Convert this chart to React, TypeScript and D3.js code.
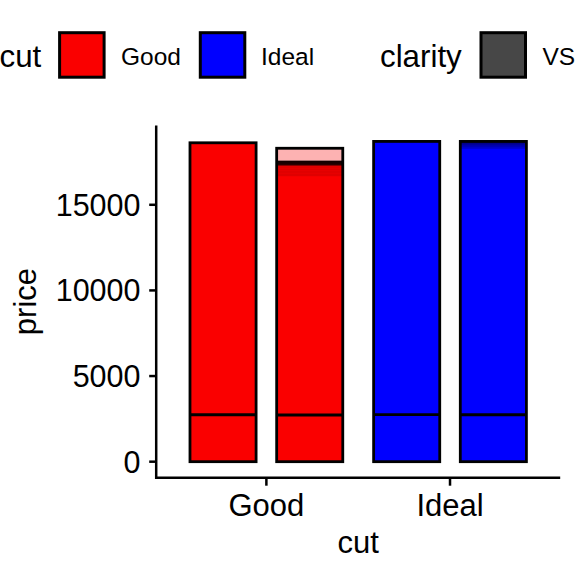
import React from 'react';
import * as d3 from 'd3';

// categories
const cuts = ['Good', 'Ideal'];
const clarities = ['VS1', 'VS2'];

// price, per cut (rows) and clarity (columns)
const peakPrice = [
  [18620, 18300],
  [18700, 18700],
];
const solidPrice = [
  [18620, 17550],
  [18700, 18700],
];
const splitPrice = [
  [2740, 2730],
  [2750, 2740],
];

// tops of the overlapping bars that show as dark lines
const goodVS2Dense = [17550, 17535, 17520, 17505, 17490, 17470, 17450, 17430, 17410, 17390, 17370, 17340, 17310];
const goodVS2Faint = [17250, 17180, 17100, 17020, 16940, 16860, 16780, 16700];
const idealVS2Dense = [18700, 18685, 18670, 18655, 18640, 18620, 18600, 18575, 18550, 18520, 18490, 18450, 18410, 18360, 18300];

const yTicks = [0, 5000, 10000, 15000];

const cutColors = ['#fa0000', '#0000ff'];
const FONT = '"Liberation Sans", Arial, Helvetica, sans-serif';

export default function App() {
  const width = 576;
  const height = 576;
  const panel = { left: 156.2, right: 560.2, top: 125.4, bottom: 477.7 };

  const x = d3.scaleLinear().domain([0.4, 2.6]).range([panel.left, panel.right]);
  const yMax = d3.max(peakPrice.flat())!;
  const pad = yMax * 0.05;
  const y = d3.scaleLinear().domain([-pad, yMax + pad]).range([panel.bottom, panel.top]);

  const dodge = 0.236;
  const barW = 0.36;

  const lineSets: Record<string, { values: number[]; opacity: number }[]> = {
    'Good-VS2': [
      { values: goodVS2Dense, opacity: 0.5 },
      { values: goodVS2Faint, opacity: 0.1 },
    ],
    'Ideal-VS2': [{ values: idealVS2Dense, opacity: 0.2 }],
  };

  const bars = cuts.flatMap((cut, i) =>
    clarities.map((cl, j) => {
      const cx = i + 1 + (j === 0 ? -dodge : dodge);
      return {
        key: `${cut}-${cl}`,
        x0: x(cx - barW / 2),
        x1: x(cx + barW / 2),
        color: cutColors[i],
        peak: peakPrice[i][j],
        solid: solidPrice[i][j],
        split: splitPrice[i][j],
        lines: lineSets[`${cut}-${cl}`] || [],
      };
    })
  );

  const keyW = 44.5;
  const keyH = 44.5;
  const keyY = 32.7;

  return (
    <svg width={width} height={height} style={{ position: 'absolute', left: 0, top: 0 }} fontFamily={FONT}>
      <rect width={width} height={height} fill="#fff" />

      {/* legend (the last label runs off the right edge, as in the source) */}
      <text x={-0.5} y={66.5} fontSize={31.3} fill="#000">cut</text>
      <rect x={59.6} y={keyY} width={keyW} height={keyH} fill={cutColors[0]} stroke="#000" strokeWidth={3} />
      <text x={121} y={65} fontSize={24.5} fill="#000">Good</text>
      <rect x={200.3} y={keyY} width={keyW} height={keyH} fill={cutColors[1]} stroke="#000" strokeWidth={3} />
      <text x={261} y={65} fontSize={24.5} fill="#000">Ideal</text>
      <text x={380} y={66.5} fontSize={31.3} fill="#000">clarity</text>
      <rect x={481} y={keyY} width={keyW} height={keyH} fill="#474747" stroke="#000" strokeWidth={3} />
      <text x={542.5} y={65} fontSize={24.5} fill="#000">{clarities[0]}</text>

      {/* bars */}
      {bars.map((b) => (
        <g key={b.key}>
          <rect
            x={b.x0}
            y={y(b.peak)}
            width={b.x1 - b.x0}
            height={y(0) - y(b.peak)}
            fill={b.color}
            fillOpacity={b.peak > b.solid ? 0.3 : 1}
          />
          <rect x={b.x0} y={y(b.solid)} width={b.x1 - b.x0} height={y(0) - y(b.solid)} fill={b.color} />
          {b.lines.map((set, k) =>
            set.values.map((v) => (
              <line
                key={`${k}-${v}`}
                x1={b.x0}
                x2={b.x1}
                y1={y(v)}
                y2={y(v)}
                stroke="#000"
                strokeOpacity={set.opacity}
                strokeWidth={1.2}
              />
            ))
          )}
          <line x1={b.x0} x2={b.x1} y1={y(b.split)} y2={y(b.split)} stroke="#000" strokeWidth={2.9} />
          <rect
            x={b.x0}
            y={y(b.peak)}
            width={b.x1 - b.x0}
            height={y(0) - y(b.peak)}
            fill="none"
            stroke="#000"
            strokeWidth={2.8}
          />
        </g>
      ))}

      {/* axes */}
      <line x1={panel.left} x2={panel.left} y1={panel.top} y2={panel.bottom + 1.2} stroke="#000" strokeWidth={2.5} />
      <line x1={panel.left - 1.2} x2={panel.right} y1={panel.bottom} y2={panel.bottom} stroke="#000" strokeWidth={2.5} />

      {yTicks.map((t) => (
        <g key={t}>
          <line x1={panel.left - 7} x2={panel.left} y1={y(t)} y2={y(t)} stroke="#000" strokeWidth={2.5} />
          <text x={140.5} y={y(t)} dy="0.36em" textAnchor="end" fontSize={30.5} fill="#000">
            {t}
          </text>
        </g>
      ))}

      {cuts.map((c, i) => (
        <g key={c}>
          <line x1={x(i + 1)} x2={x(i + 1)} y1={panel.bottom} y2={panel.bottom + 8} stroke="#000" strokeWidth={2.5} />
          <text x={x(i + 1)} y={516} textAnchor="middle" fontSize={31} fill="#000">
            {c}
          </text>
        </g>
      ))}

      <text x={(panel.left + panel.right) / 2} y={553} textAnchor="middle" fontSize={31} fill="#000">
        cut
      </text>
      <text
        transform={`translate(36, ${(panel.top + panel.bottom) / 2}) rotate(-90)`}
        textAnchor="middle"
        fontSize={31}
        fill="#000"
      >
        price
      </text>
    </svg>
  );
}
